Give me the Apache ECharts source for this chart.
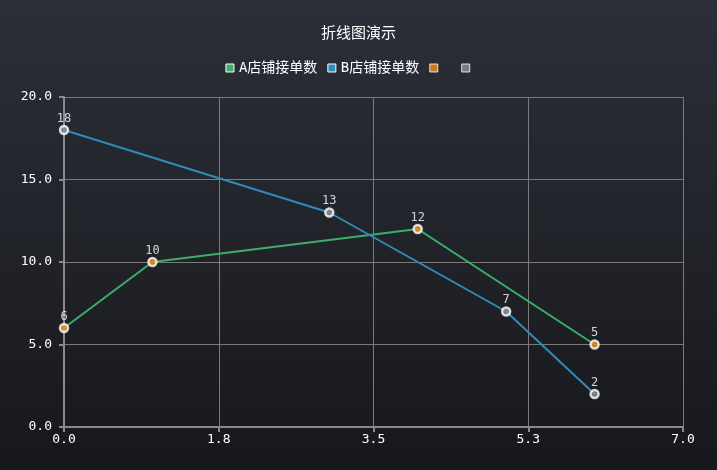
<!DOCTYPE html>
<html>
<head>
<meta charset="utf-8">
<script src="https://cdn.jsdelivr.net/npm/echarts@6/dist/echarts.min.js"></script>
<style>
  html, body { margin: 0; padding: 0; background: #1b1c21; }
  #main { width: 717px; height: 470px; }
</style>
</head>
<body>
<div id="main"></div>
<script>
var titleText = '折线图演示';
var seriesNames = ['A店铺接单数', 'B店铺接单数', ' ', '  '];
var shopA = [[0, 6], [1, 10], [4, 12], [6, 5]];
var shopB = [[0, 18], [3, 13], [5, 7], [6, 2]];
var xMin = 0, xMax = 7, xStep = 1.75;
var yMin = 0, yMax = 20, yStep = 5;

var font = "'DejaVu Sans Mono', 'Noto Sans CJK SC', monospace";
var colors = ['#3aae6a', '#2f8bb8', '#f0901c', '#8b8e96'];

var chart = echarts.init(document.getElementById('main'));

var pointSeries = function (name, data, color) {
    return {
        name: name,
        type: 'scatter',
        data: data,
        symbol: 'circle',
        symbolSize: 8,
        z: 5,
        itemStyle: { color: color, borderColor: '#fff', borderWidth: 2.5 },
        label: {
            show: true,
            position: 'top',
            distance: 0,
            color: '#fff',
            fontFamily: font,
            fontSize: 12,
            formatter: function (p) { return p.value[1]; }
        }
    };
};

var option = {
    backgroundColor: new echarts.graphic.LinearGradient(0, 0, 0, 1, [
        { offset: 0, color: '#2c2f38' },
        { offset: 1, color: '#17181c' }
    ]),
    color: colors,
    title: {
        text: titleText,
        left: 'center',
        top: 22,
        textStyle: { color: '#fff', fontSize: 15, fontWeight: 'normal', fontFamily: font }
    },
    legend: {
        top: 56,
        left: 'center',
        data: seriesNames,
        itemWidth: 8,
        itemHeight: 8,
        itemGap: 10,
        icon: 'rect',
        itemStyle: { borderColor: '#fff', borderWidth: 1 },
        textStyle: { color: '#fff', fontSize: 14, fontFamily: font }
    },
    grid: { left: 64, right: 34, top: 97, bottom: 43 },
    xAxis: {
        type: 'value',
        min: xMin,
        max: xMax,
        interval: xStep,
        axisLine: { lineStyle: { color: '#8a8a8a', width: 2 } },
        axisTick: { show: true, length: 5, lineStyle: { color: '#8a8a8a', width: 2 } },
        splitLine: { show: true, lineStyle: { color: '#7a7a7a', width: 1 } },
        axisLabel: {
            color: '#fff', fontFamily: font, fontSize: 13, margin: 6,
            formatter: function (v) { return v.toFixed(1); }
        }
    },
    yAxis: {
        type: 'value',
        min: yMin,
        max: yMax,
        interval: yStep,
        axisLine: { show: true, lineStyle: { color: '#8a8a8a', width: 2 } },
        axisTick: { show: true, length: 5, lineStyle: { color: '#8a8a8a', width: 2 } },
        splitLine: { show: true, lineStyle: { color: '#7a7a7a', width: 1 } },
        axisLabel: {
            color: '#fff', fontFamily: font, fontSize: 13, margin: 12,
            formatter: function (v) { return v.toFixed(1); }
        }
    },
    series: [
        {
            name: seriesNames[0],
            type: 'line',
            data: shopA,
            symbol: 'none',
            lineStyle: { width: 2, color: colors[0] }
        },
        {
            name: seriesNames[1],
            type: 'line',
            data: shopB,
            symbol: 'none',
            lineStyle: { width: 2, color: colors[1] }
        },
        pointSeries(seriesNames[2], shopA, colors[2]),
        pointSeries(seriesNames[3], shopB, colors[3])
    ]
};

chart.setOption(option);
</script>
</body>
</html>
